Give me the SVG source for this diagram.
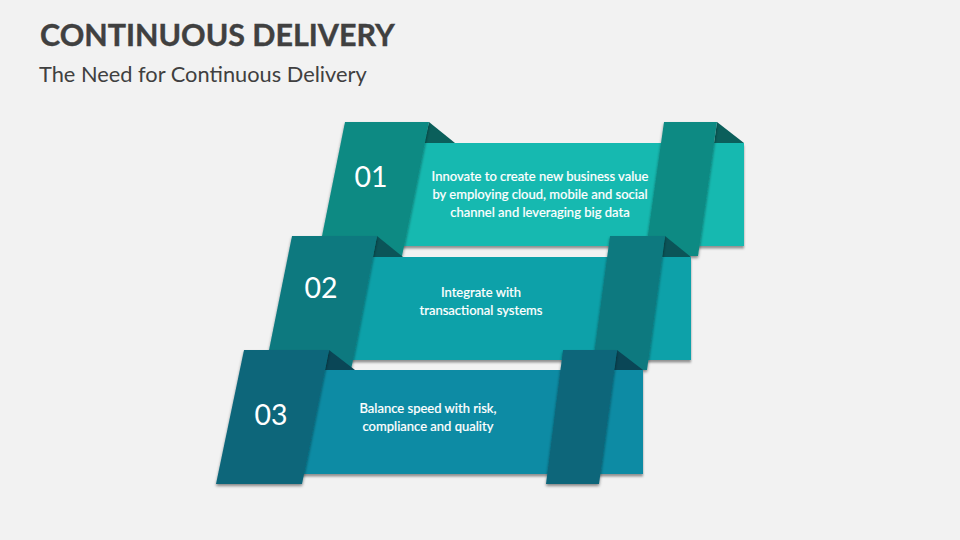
<svg xmlns="http://www.w3.org/2000/svg" width="960" height="540" viewBox="0 0 960 540">
<style>
.t{font-family:"Lato","Liberation Sans",sans-serif}
.h{font-size:30.45px;font-weight:700;fill:#404040;stroke:#404040;stroke-width:.4}
.s{font-size:21.8px;fill:#404040}
.n{font-size:28.5px;fill:#fff;text-anchor:middle}
.b{font-size:13px;fill:#fff;text-anchor:middle;font-weight:500;stroke:#fff;stroke-width:.15}
.sh{filter:url(#ds)}
.sm{filter:url(#dm)}
.m1{fill:#12b9b0}.d1{fill:#0e8a83}.f1{fill:#0b5f5b}
.m2{fill:#10a1a9}.d2{fill:#0e797f}.f2{fill:#0b5458}
.m3{fill:#108ba4}.d3{fill:#0c667a}.f3{fill:#0a4656}
</style>
<defs>
<filter id="ds" x="-15%" y="-10%" width="130%" height="120%"><feDropShadow dx="0" dy="2" stdDeviation="1.6" flood-color="#000" flood-opacity=".45"/></filter>
<filter id="dm" x="-5%" y="-10%" width="110%" height="120%"><feDropShadow dx="0" dy="2.5" stdDeviation="1.2" flood-color="#000" flood-opacity=".4"/></filter>
</defs>
<rect width="960" height="540" fill="#f2f2f2"/>
<text class="t h" x="40" y="46">CONTINUOUS DELIVERY</text>
<text class="t s" x="39" y="82">The Need for Continuous Delivery</text>

<g id="step-01">
<rect class="m1 sm" x="395" y="143" width="349" height="103"/>
<polygon class="f1" points="429,122 455,143 424,143"/>
<polygon class="f1" points="717,122 744,143 714,143"/>
<polygon class="d1 sh" points="345,122 429,122 402,256 318,256"/>
<polygon class="d1 sh" points="664,122 717,122 698,256 645,256"/>
<text class="t n" x="371" y="187">01</text>
<text class="t b"><tspan x="540" y="181">Innovate to create new business value</tspan><tspan x="540" y="199">by employing cloud, mobile and social</tspan><tspan x="540" y="217">channel and leveraging big data</tspan></text>
</g>

<g id="step-02">
<rect class="m2 sm" x="345" y="257" width="346" height="103"/>
<polygon class="f2" points="377,236 403,257 373,257"/>
<polygon class="f2" points="665,236 691,257 662,257"/>
<polygon class="d2 sh" points="292,236 377,236 351,370 265,370"/>
<polygon class="d2 sh" points="610,236 665,236 647,370 592,370"/>
<text class="t n" x="321" y="298">02</text>
<text class="t b"><tspan x="481" y="297">Integrate with</tspan><tspan x="481" y="315">transactional systems</tspan></text>
</g>

<g id="step-03">
<rect class="m3 sm" x="295" y="370" width="348" height="104"/>
<polygon class="f3" points="329,350 355,370 325,370"/>
<polygon class="f3" points="617,350 643,370 614,370"/>
<polygon class="d3 sh" points="244,350 329,350 302,484 216,484"/>
<polygon class="d3 sh" points="563,350 617,350 599,484 546,484"/>
<text class="t n" x="271" y="425">03</text>
<text class="t b"><tspan x="428" y="413">Balance speed with risk,</tspan><tspan x="428" y="431">compliance and quality</tspan></text>
</g>
</svg>
